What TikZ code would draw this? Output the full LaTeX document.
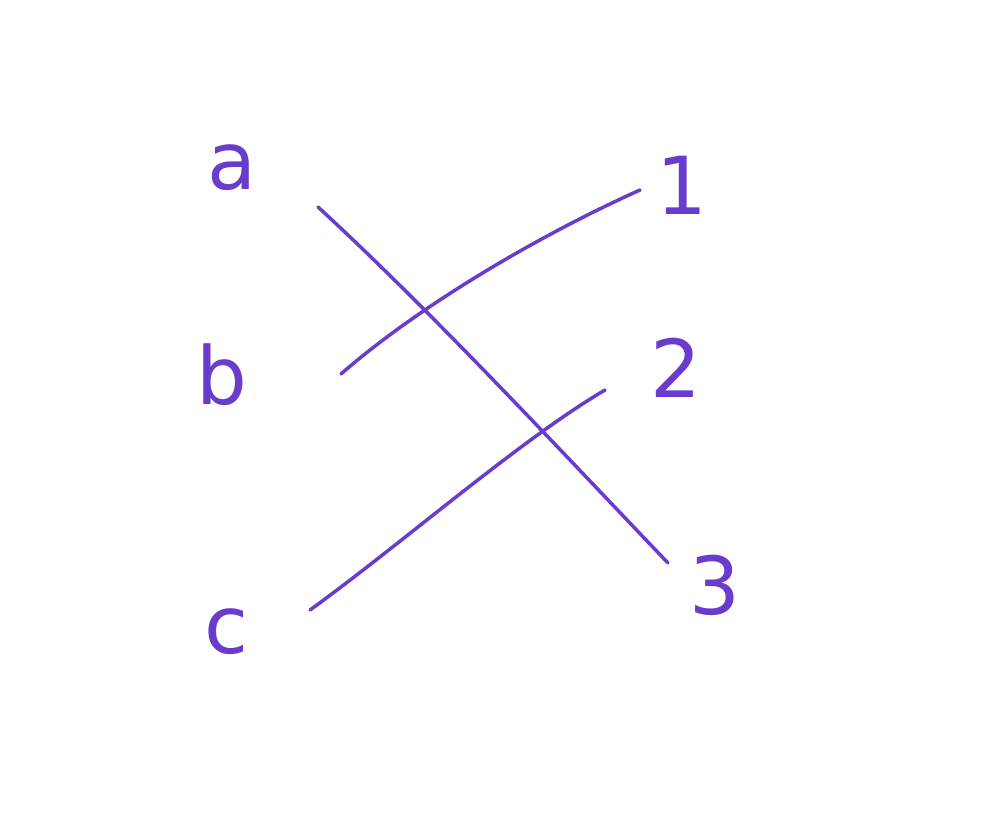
\documentclass[tikz,border=0pt]{standalone}
\usepackage{fontspec}
\setmainfont{DejaVu Sans}
\definecolor{pen}{RGB}{105,60,205}
\begin{document}
\begin{tikzpicture}[x=1pt,y=-1pt,
  lbl/.style={text=pen,font=\fontsize{80}{80}\selectfont\fontseries{l}, inner sep=0pt},
  stroke/.style={draw=pen,line width=3.5pt,line cap=round}]
\useasboundingbox (0,0) rectangle (1000,821);
\fill[white] (0,0) rectangle (1000,821);
\node[lbl] (a) at (232,168) {a};
\node[lbl] (b) at (222,375) {b};
\node[lbl] (c) at (226,632) {c};
\node[lbl] (n1) at (682,185) {1};
\node[lbl] (n2) at (676,368) {2};
\node[lbl] (n3) at (715,585) {3};
\coordinate (a1) at (318,207);
\coordinate (a2) at (668,563);
\coordinate (b1) at (341,374);
\coordinate (b2) at (640,190);
\coordinate (c1) at (310,610);
\coordinate (c2) at (605,390);
\draw[stroke] (a1) .. controls (430,310) and (560,450) .. (a2);
\draw[stroke] (b1) .. controls (420,305) and (540,235) .. (b2);
\draw[stroke] (c1) .. controls (400,545) and (520,440) .. (c2);
\end{tikzpicture}
\end{document}
